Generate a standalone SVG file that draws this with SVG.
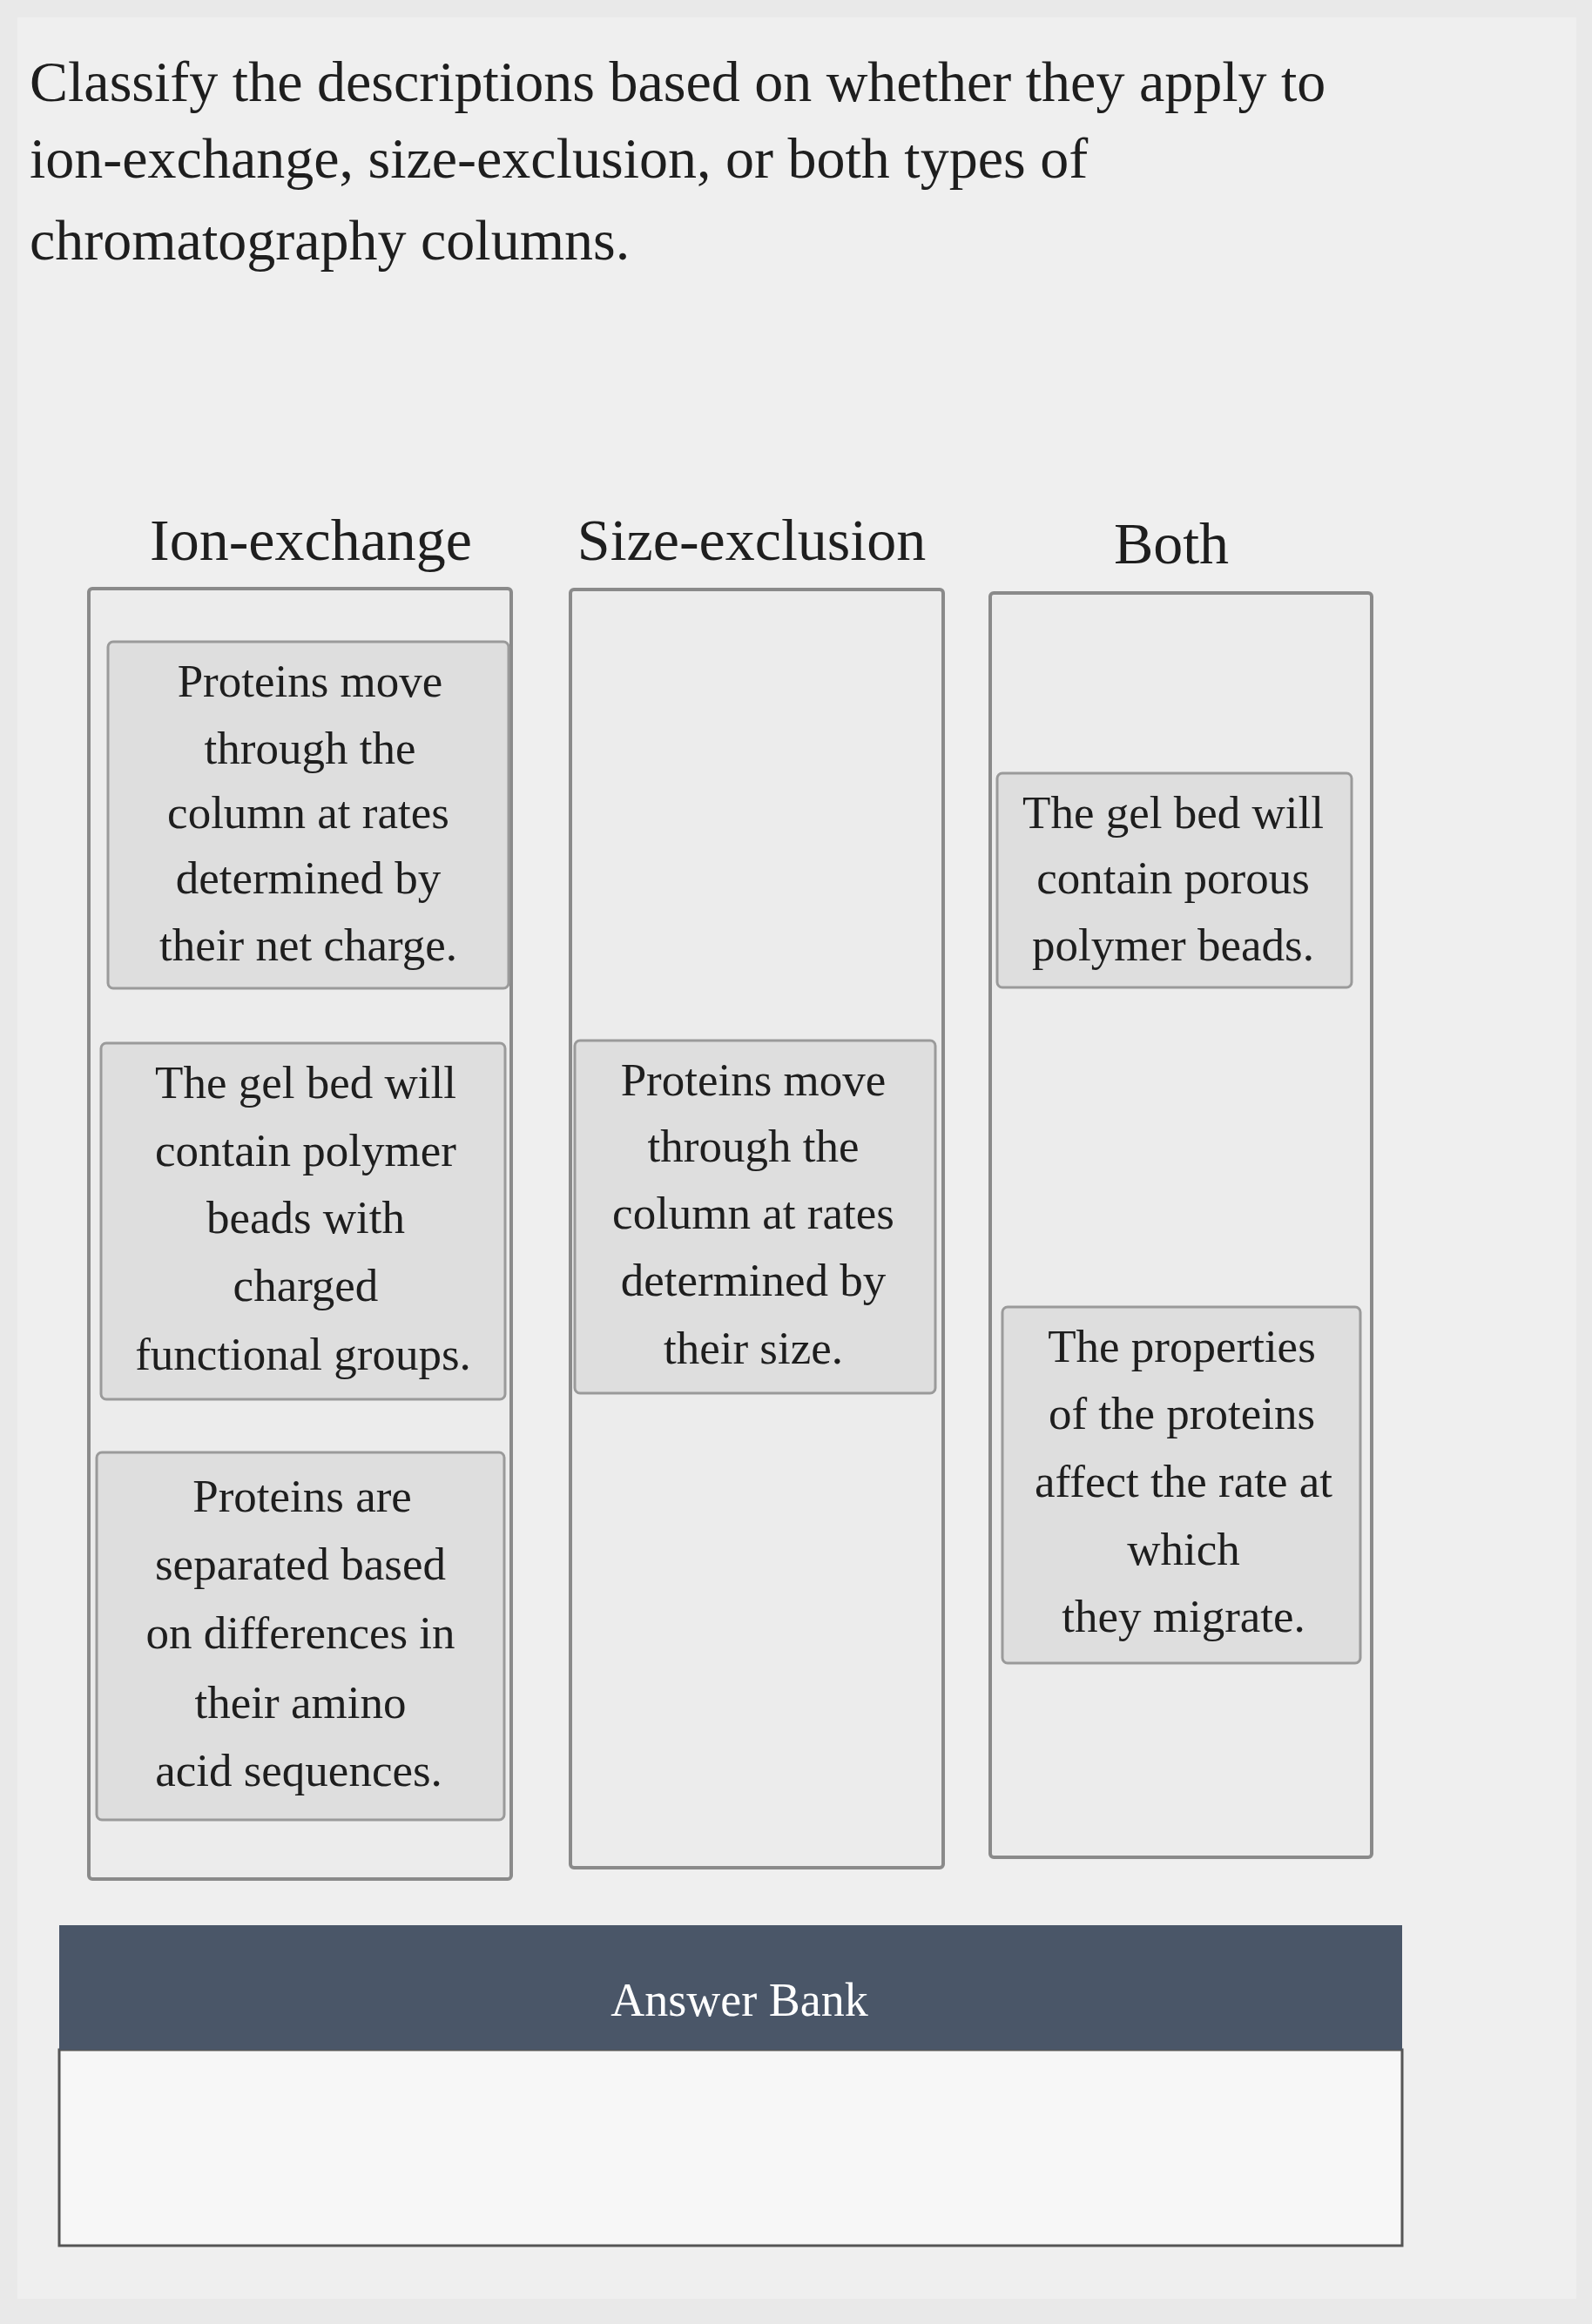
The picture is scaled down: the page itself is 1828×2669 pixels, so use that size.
<svg xmlns="http://www.w3.org/2000/svg" width="1828" height="2669" viewBox="0 0 1828 2669">
<style>
text{font-family:"Liberation Serif","Times New Roman",serif;fill:#1e1e1e}
.t{font-size:66px}
.h{font-size:68px;text-anchor:middle}
.c{font-size:53px;text-anchor:middle}
.col{fill:#ececec;stroke:#8a8a8a;stroke-width:4}
.card{fill:#dedede;stroke:#9a9a9a;stroke-width:3}
</style>
<rect width="1828" height="2669" fill="#e9e9e9"/>
<rect x="20" y="20" width="1790" height="2620" fill="#efefef"/>
<g id="title">
<text class="t" x="34" y="116">Classify the descriptions based on whether they apply to</text>
<text class="t" x="34" y="204">ion-exchange, size-exclusion, or both types of</text>
<text class="t" x="34" y="298">chromatography columns.</text>
</g>
<g id="headers">
<text class="h" x="357" y="643">Ion-exchange</text>
<text class="h" x="863" y="643">Size-exclusion</text>
<text class="h" x="1345" y="647">Both</text>
</g>
<g id="columns">
<rect class="col" x="102" y="676" width="485" height="1482" rx="4"/>
<rect class="col" x="655" y="677" width="428" height="1468" rx="4"/>
<rect class="col" x="1137" y="681" width="438" height="1452" rx="4"/>
</g>
<g id="card1"><rect class="card" x="124" y="737" width="460" height="398" rx="6"/>
<text class="c" x="356" y="800">Proteins move</text><text class="c" x="356" y="877">through the</text><text class="c" x="354" y="951">column at rates</text><text class="c" x="354" y="1026">determined by</text><text class="c" x="354" y="1103">their net charge.</text></g>
<g id="card2"><rect class="card" x="116" y="1198" width="464" height="409" rx="6"/>
<text class="c" x="351" y="1261">The gel bed will</text><text class="c" x="351" y="1339">contain polymer</text><text class="c" x="351" y="1416">beads with</text><text class="c" x="351" y="1494">charged</text><text class="c" x="348" y="1573">functional groups.</text></g>
<g id="card3"><rect class="card" x="111" y="1668" width="468" height="422" rx="6"/>
<text class="c" x="347" y="1736">Proteins are</text><text class="c" x="345" y="1814">separated based</text><text class="c" x="345" y="1893">on differences in</text><text class="c" x="345" y="1973">their amino</text><text class="c" x="343" y="2051">acid sequences.</text></g>
<g id="card4"><rect class="card" x="660" y="1195" width="414" height="405" rx="6"/>
<text class="c" x="865" y="1258">Proteins move</text><text class="c" x="865" y="1334">through the</text><text class="c" x="865" y="1411">column at rates</text><text class="c" x="865" y="1488">determined by</text><text class="c" x="865" y="1566">their size.</text></g>
<g id="card5"><rect class="card" x="1145" y="888" width="407" height="246" rx="6"/>
<text class="c" x="1347" y="951">The gel bed will</text><text class="c" x="1347" y="1026">contain porous</text><text class="c" x="1347" y="1103">polymer beads.</text></g>
<g id="card6"><rect class="card" x="1151" y="1501" width="411" height="409" rx="6"/>
<text class="c" x="1357" y="1564">The properties</text><text class="c" x="1357" y="1641">of the proteins</text><text class="c" x="1359" y="1719">affect the rate at</text><text class="c" x="1359" y="1797">which</text><text class="c" x="1359" y="1874">they migrate.</text></g>
<g id="answerbank">
<rect x="68" y="2354" width="1542" height="225" fill="#f7f7f7" stroke="#555" stroke-width="3"/>
<rect x="68" y="2211" width="1542" height="143" fill="#4a5668"/>
<text x="849" y="2315" font-size="54" text-anchor="middle" style="fill:#ffffff">Answer Bank</text>
</g>
</svg>
